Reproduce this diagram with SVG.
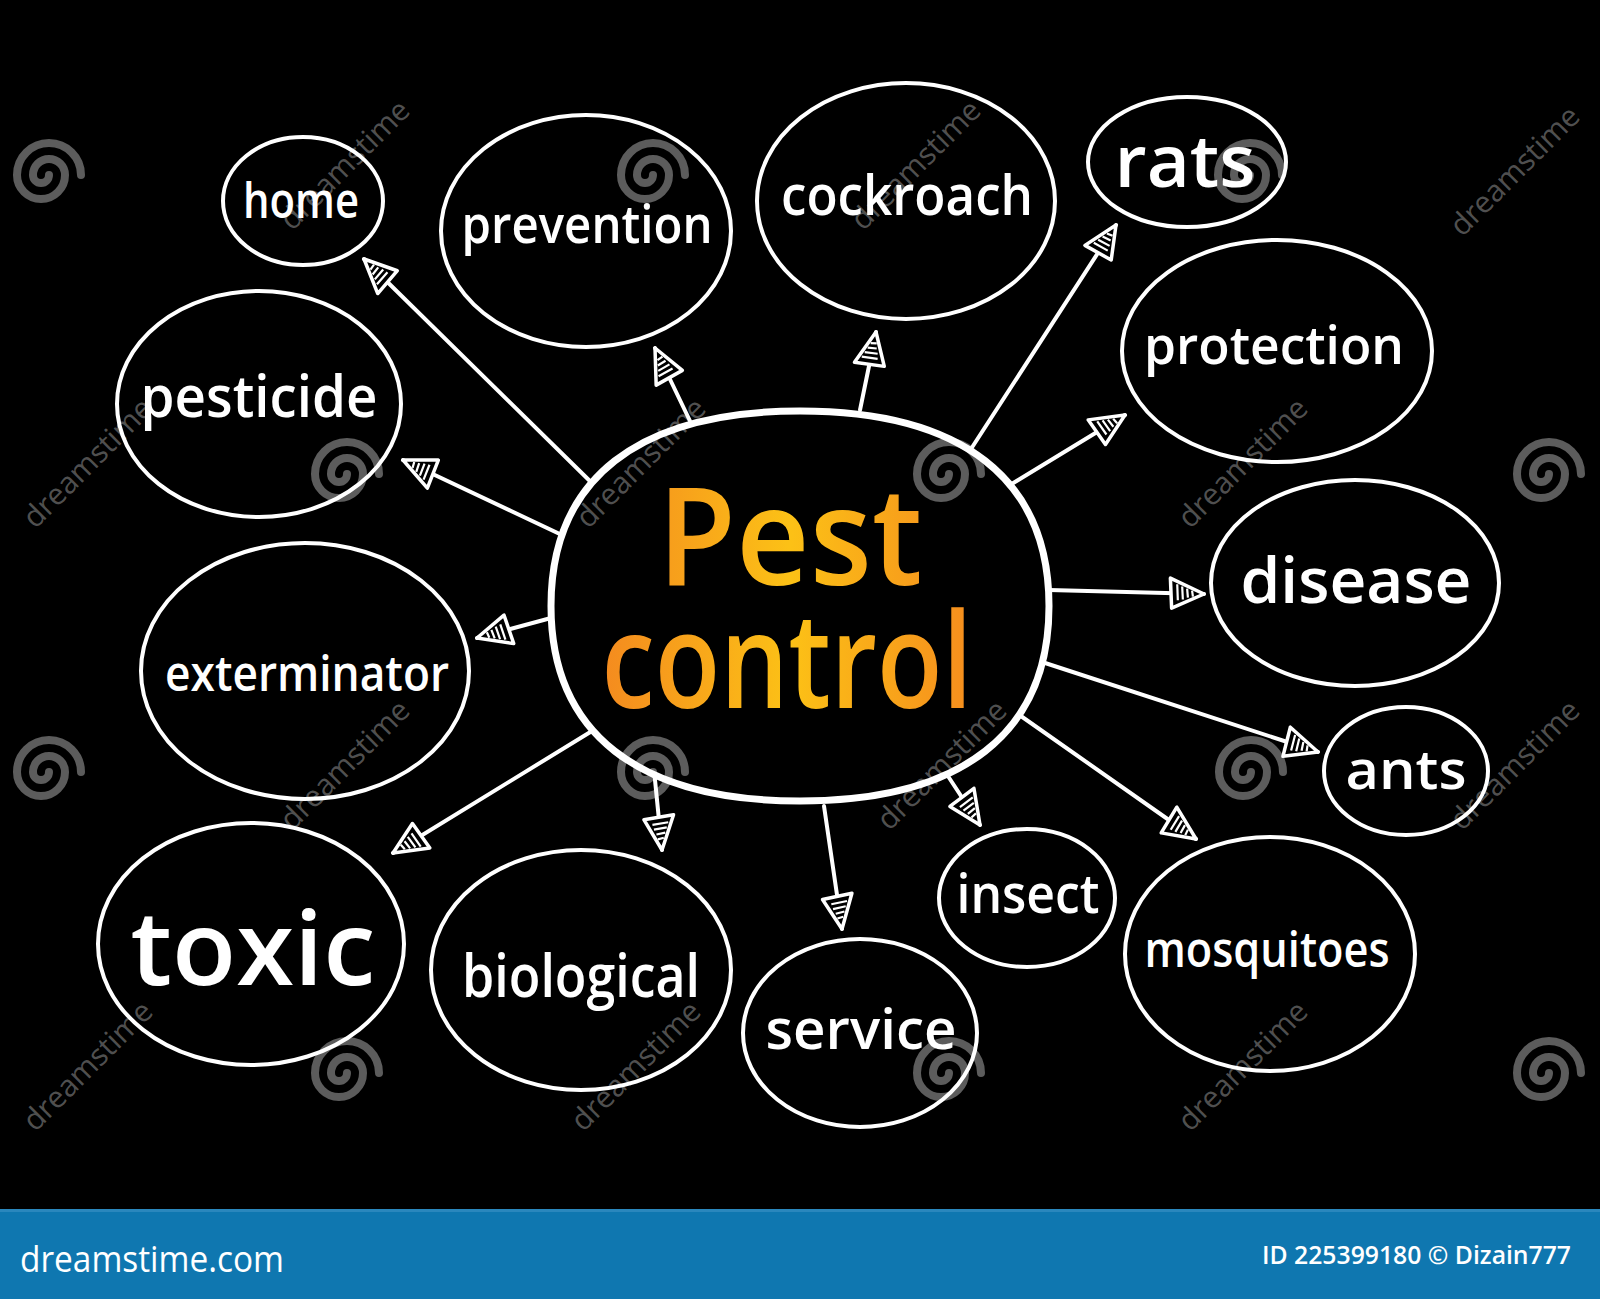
<svg xmlns="http://www.w3.org/2000/svg" width="1600" height="1299" viewBox="0 0 1600 1299">
<style>
.node{fill:#000;stroke:#fff;stroke-width:4}
.lbl{fill:#fff;font-family:"Open Sans","DejaVu Sans",sans-serif;font-weight:600;text-anchor:middle}
.conn{stroke:#fff;stroke-width:4;fill:none;stroke-linecap:round;marker-end:url(#ah)}
.wm{fill:#fff;fill-opacity:0.33;font-family:"Open Sans","DejaVu Sans",sans-serif;font-size:30px;text-anchor:middle}
.sp{fill:none;stroke:#fff;stroke-opacity:0.36;stroke-width:8;stroke-linecap:round}
.ban{fill:#fff;font-family:"Open Sans","DejaVu Sans",sans-serif}
</style>
<defs>
<marker id="ah" markerUnits="userSpaceOnUse" markerWidth="40" markerHeight="36" viewBox="0 0 40 36" refX="37" refY="18" orient="auto">
<path d="M37,18 L3,3 L5,33 Z" fill="#000" stroke="#fff" stroke-width="3.5" stroke-linejoin="round"/>
<path d="M10,9 L11,25 M15,11 L16,24 M20,13 L21,22 M25,15 L26,21" stroke="#fff" stroke-width="2.2" fill="none"/>
</marker>
<linearGradient id="og" gradientUnits="userSpaceOnUse" x1="600" y1="0" x2="980" y2="0">
<stop offset="0" stop-color="#f48a1f"/>
<stop offset="0.5" stop-color="#fcc116"/>
<stop offset="1" stop-color="#f58b1e"/>
</linearGradient>
<path id="spiral" d="M32,0 A32,32 0 0 0 -32,0 A24,24 0 0 0 16,0 A16,16 0 0 0 -16,0 A8,8 0 0 0 0,0"/>
</defs>
<rect x="0" y="0" width="1600" height="1299" fill="#000"/>

<g id="connectors">
<line class="conn" x1="597" y1="488" x2="364" y2="259"/>
<line class="conn" x1="690" y1="421" x2="655" y2="348"/>
<line class="conn" x1="860" y1="410" x2="876" y2="332"/>
<line class="conn" x1="971" y1="449" x2="1116" y2="225"/>
<line class="conn" x1="1010" y1="485" x2="1125" y2="415"/>
<line class="conn" x1="564" y1="536" x2="403" y2="460"/>
<line class="conn" x1="1049" y1="590" x2="1204" y2="594"/>
<line class="conn" x1="551" y1="618" x2="477" y2="638"/>
<line class="conn" x1="1039" y1="661" x2="1318" y2="752"/>
<line class="conn" x1="592" y1="731" x2="393" y2="853"/>
<line class="conn" x1="653" y1="760" x2="662" y2="850"/>
<line class="conn" x1="824" y1="806" x2="842" y2="929"/>
<line class="conn" x1="944" y1="770" x2="980" y2="825"/>
<line class="conn" x1="1018" y1="714" x2="1196" y2="839"/>
</g>

<g id="center">
<path d="M551,606 C551,479 638,411 800,411 C962,411 1049,479 1049,606 C1049,733 962,801 800,801 C638,801 551,733 551,606 Z" fill="#000" stroke="#fff" stroke-width="7"/>
<text font-family="'Open Sans','DejaVu Sans',sans-serif" font-weight="600" fill="url(#og)" text-anchor="middle"><tspan x="790" y="585" font-size="136" textLength="265" lengthAdjust="spacingAndGlyphs">Pest</tspan><tspan x="787" y="708" font-size="132" textLength="371" lengthAdjust="spacingAndGlyphs">control</tspan></text>
</g>

<g id="node-home"><ellipse class="node" cx="303" cy="201" rx="80" ry="64"/><text class="lbl" x="301" y="218" font-size="48" textLength="116" lengthAdjust="spacingAndGlyphs">home</text></g>
<g id="node-prevention"><ellipse class="node" cx="586" cy="231" rx="145" ry="116"/><text class="lbl" x="587" y="243" font-size="52" textLength="251" lengthAdjust="spacingAndGlyphs">prevention</text></g>
<g id="node-cockroach"><ellipse class="node" cx="906" cy="201" rx="149" ry="118"/><text class="lbl" x="907" y="215" font-size="56" textLength="252" lengthAdjust="spacingAndGlyphs">cockroach</text></g>
<g id="node-rats"><ellipse class="node" cx="1187" cy="162" rx="99" ry="65"/><text class="lbl" x="1185" y="187" font-size="72" textLength="141" lengthAdjust="spacingAndGlyphs">rats</text></g>
<g id="node-protection"><ellipse class="node" cx="1277" cy="351" rx="155" ry="111"/><text class="lbl" x="1274" y="364" font-size="52" textLength="260" lengthAdjust="spacingAndGlyphs">protection</text></g>
<g id="node-pesticide"><ellipse class="node" cx="259" cy="404" rx="142" ry="113"/><text class="lbl" x="259" y="417" font-size="58" textLength="237" lengthAdjust="spacingAndGlyphs">pesticide</text></g>
<g id="node-disease"><ellipse class="node" cx="1355" cy="583" rx="144" ry="103"/><text class="lbl" x="1356" y="603" font-size="64" textLength="231" lengthAdjust="spacingAndGlyphs">disease</text></g>
<g id="node-exterminator"><ellipse class="node" cx="305" cy="671" rx="164" ry="128"/><text class="lbl" x="307" y="691" font-size="48" textLength="284" lengthAdjust="spacingAndGlyphs">exterminator</text></g>
<g id="node-ants"><ellipse class="node" cx="1406" cy="771" rx="82" ry="64"/><text class="lbl" x="1406" y="789" font-size="54" textLength="121" lengthAdjust="spacingAndGlyphs">ants</text></g>
<g id="node-toxic"><ellipse class="node" cx="251" cy="944" rx="153" ry="121"/><text class="lbl" x="253" y="985" font-size="104" textLength="245" lengthAdjust="spacingAndGlyphs">toxic</text></g>
<g id="node-biological"><ellipse class="node" cx="581" cy="970" rx="150" ry="120"/><text class="lbl" x="581" y="997" font-size="60" textLength="238" lengthAdjust="spacingAndGlyphs">biological</text></g>
<g id="node-service"><ellipse class="node" cx="860" cy="1033" rx="117" ry="94"/><text class="lbl" x="861" y="1049" font-size="56" textLength="191" lengthAdjust="spacingAndGlyphs">service</text></g>
<g id="node-insect"><ellipse class="node" cx="1027" cy="898" rx="88" ry="69"/><text class="lbl" x="1028" y="913" font-size="54" textLength="143" lengthAdjust="spacingAndGlyphs">insect</text></g>
<g id="node-mosquitoes"><ellipse class="node" cx="1270" cy="954" rx="145" ry="117"/><text class="lbl" x="1267" y="967" font-size="48" textLength="245" lengthAdjust="spacingAndGlyphs">mosquitoes</text></g>

<g id="watermark">
<use href="#spiral" class="sp" x="49" y="175"/>
<use href="#spiral" class="sp" x="653" y="175"/>
<use href="#spiral" class="sp" x="1250" y="175"/>
<use href="#spiral" class="sp" x="347" y="474"/>
<use href="#spiral" class="sp" x="949" y="474"/>
<use href="#spiral" class="sp" x="1549" y="474"/>
<use href="#spiral" class="sp" x="49" y="772"/>
<use href="#spiral" class="sp" x="653" y="772"/>
<use href="#spiral" class="sp" x="1251" y="772"/>
<use href="#spiral" class="sp" x="347" y="1073"/>
<use href="#spiral" class="sp" x="949" y="1073"/>
<use href="#spiral" class="sp" x="1549" y="1073"/>
<text class="wm" transform="translate(352,172) rotate(-45)">dreamstime</text>
<text class="wm" transform="translate(923,172) rotate(-45)">dreamstime</text>
<text class="wm" transform="translate(1522,178) rotate(-45)">dreamstime</text>
<text class="wm" transform="translate(95,470) rotate(-45)">dreamstime</text>
<text class="wm" transform="translate(648,470) rotate(-45)">dreamstime</text>
<text class="wm" transform="translate(1250,470) rotate(-45)">dreamstime</text>
<text class="wm" transform="translate(352,772) rotate(-45)">dreamstime</text>
<text class="wm" transform="translate(949,772) rotate(-45)">dreamstime</text>
<text class="wm" transform="translate(1522,772) rotate(-45)">dreamstime</text>
<text class="wm" transform="translate(95,1073) rotate(-45)">dreamstime</text>
<text class="wm" transform="translate(643,1073) rotate(-45)">dreamstime</text>
<text class="wm" transform="translate(1250,1073) rotate(-45)">dreamstime</text>
</g>

<g id="banner">
<rect x="0" y="1209" width="1600" height="90" fill="#0f77b0"/>
<rect x="0" y="1209" width="1600" height="3" fill="#2a87bd"/>
<text class="ban" x="20" y="1272" font-size="36" textLength="264" lengthAdjust="spacingAndGlyphs">dreamstime.com</text>
<text class="ban" x="1571" y="1264" font-size="26" font-weight="600" text-anchor="end" textLength="309" lengthAdjust="spacingAndGlyphs">ID 225399180 © Dizain777</text>
</g>
</svg>
